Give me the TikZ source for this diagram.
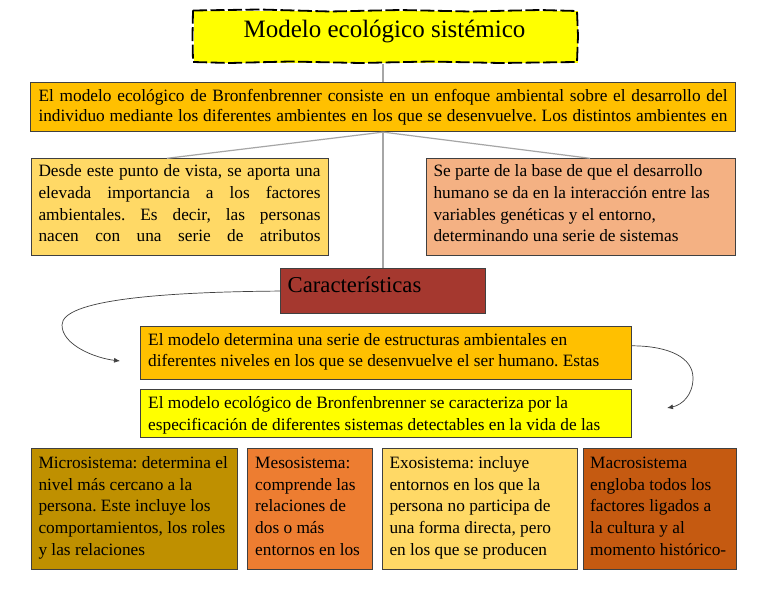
\documentclass[tikz,border=0pt]{standalone}
\usepackage{fontspec}
\setmainfont{Liberation Serif}
\usetikzlibrary{arrows.meta}
\definecolor{cYellow}{HTML}{FFFF00}
\definecolor{cAmber}{HTML}{FFC000}
\definecolor{cLight}{HTML}{FFD966}
\definecolor{cPeach}{HTML}{F4B183}
\definecolor{cRed}{HTML}{A5382F}
\definecolor{cOlive}{HTML}{BF9000}
\definecolor{cOrange}{HTML}{ED7D31}
\definecolor{cRust}{HTML}{C55A11}
\definecolor{cBorder}{HTML}{404040}
\definecolor{cLink}{HTML}{A6A6A6}
\newcommand\Ln[1]{\hbox{#1}}
\newcommand\Jl[2]{\hbox to #1{#2}}
\frenchspacing
\begin{document}
\begin{tikzpicture}[x=1pt,y=-1pt,
  box/.style={draw=cBorder, line width=1.1pt, rectangle, inner sep=0, anchor=north west},
  txt/.style={inner sep=0, anchor=base west, font=\fontsize{17.3}{21.7}\selectfont\frenchspacing},
  link/.style={draw=cLink, line width=1.2pt},
  curvearrow/.style={draw=cBorder, line width=0.7pt, -{Latex[length=6pt,width=5pt]}},
  titleborder/.style={draw=black, line width=1.8pt, dash pattern=on 14pt off 3.5pt, line join=round}]
\useasboundingbox (0,0) rectangle (768,594);
\fill[white] (0,0) rectangle (768,594);
% boxes
\node[box, fill=cYellow, draw=none, minimum width=384pt, minimum height=52pt] (title) at (193,10.5) {};
\draw[titleborder] (193,10.5) -- (260,9.5) -- (330,11.5) -- (400,10) -- (470,11.5) -- (540,10) -- (577,11)
  -- (578,36) -- (577,62) -- (500,63) -- (430,61.5) -- (360,63) -- (290,61.5) -- (230,63) -- (193,62)
  -- (192.5,36) -- cycle;
\node[box, fill=cAmber, minimum width=705pt, minimum height=49pt] (box2) at (30,82) {};
\node[box, fill=cLight, minimum width=297.6pt, minimum height=96.7pt] (left) at (30.7,158.3) {};
\node[box, fill=cPeach, minimum width=309.3pt, minimum height=96.7pt] (right) at (425.7,158.3) {};
\node[box, fill=cRed, minimum width=205pt, minimum height=45.6pt] (char) at (280,267.7) {};
\node[box, fill=cAmber, minimum width=491pt, minimum height=52.5pt] (b3) at (140,326) {};
\node[box, fill=cYellow, minimum width=491pt, minimum height=48pt] (b4) at (140,389) {};
\node[box, fill=cOlive, minimum width=206.6pt, minimum height=120.7pt] (micro) at (30.7,448.3) {};
\node[box, fill=cOrange, minimum width=124.4pt, minimum height=120.7pt] (meso) at (247.3,448.3) {};
\node[box, fill=cLight, minimum width=194.4pt, minimum height=120.7pt] (exo) at (382.3,448.3) {};
\node[box, fill=cRust, minimum width=152.4pt, minimum height=120.7pt] (macro) at (583.3,448.3) {};
% connectors
\draw[link] (title.south -| box2.north) -- (box2.north);
\draw[link] (box2.south) -- (char.north);
\draw[link] (box2.south) -- ([xshift=136.3pt]left.north west);
\draw[link] (box2.south) -- ([xshift=164.3pt]right.north west);
\coordinate (tipL) at (120,361);
\coordinate (tipR) at (667,408);
\draw[curvearrow] (char.west) .. controls (160,292) and (62,300) .. (62,325)
  .. controls (62,345) and (95,358) .. (tipL);
\draw[curvearrow] ([yshift=7pt]b3.east) .. controls (670,346) and (693,358) .. (693,378)
  .. controls (693,395) and (682,405) .. (tipR);
% texts
\node[inner sep=0, anchor=base, font=\fontsize{25}{30}\selectfont] (titletxt) at (384.5,37.5) {Modelo ecológico sistémico};
\node[txt, font=\fontsize{17.3}{20}\selectfont\frenchspacing] (t2) at (38.3,101.7) {\vtop{%
  \Jl{689pt}{El modelo ecológico de Bronfenbrenner consiste en un enfoque ambiental sobre el desarrollo del}%
  \Jl{689pt}{individuo mediante los diferentes ambientes en los que se desenvuelve. Los distintos ambientes en}}};
\node[txt] (tleft) at (38.3,176.7) {\vtop{%
  \Jl{282pt}{Desde este punto de vista, se aporta una}%
  \Jl{282pt}{elevada importancia a los factores}%
  \Jl{282pt}{ambientales. Es decir, las personas}%
  \Jl{282pt}{nacen con una serie de atributos}}};
\node[txt] (tright) at (433.3,176.7) {\vtop{%
  \Ln{Se parte de la base de que el desarrollo}%
  \Ln{humano se da en la interacción entre las}%
  \Ln{variables genéticas y el entorno,}%
  \Ln{determinando una serie de sistemas}}};
\node[inner sep=0, anchor=base west, font=\fontsize{22.7}{27}\selectfont] (tchar) at (287.5,292) {Características};
\node[txt] (tb3) at (148,345) {\vtop{%
  \Ln{El modelo determina una serie de estructuras ambientales en}%
  \Ln{diferentes niveles en los que se desenvuelve el ser humano. Estas}}};
\node[txt] (tb4) at (148,408.3) {\vtop{%
  \Ln{El modelo ecológico de Bronfenbrenner se caracteriza por la}%
  \Ln{especificación de diferentes sistemas detectables en la vida de las}}};
\node[txt] (tmicro) at (38.3,468.3) {\vtop{%
  \Ln{Microsistema: determina el}%
  \Ln{nivel más cercano a la}%
  \Ln{persona. Este incluye los}%
  \Ln{comportamientos, los roles}%
  \Ln{y las relaciones}}};
\node[txt] (tmeso) at (255,468.3) {\vtop{%
  \Ln{Mesosistema:}%
  \Ln{comprende las}%
  \Ln{relaciones de}%
  \Ln{dos o más}%
  \Ln{entornos en los}}};
\node[txt] (texo) at (389.3,468.3) {\vtop{%
  \Ln{Exosistema: incluye}%
  \Ln{entornos en los que la}%
  \Ln{persona no participa de}%
  \Ln{una forma directa, pero}%
  \Ln{en los que se producen}}};
\node[txt] (tmacro) at (590,468.3) {\vtop{%
  \Ln{Macrosistema}%
  \Ln{engloba todos los}%
  \Ln{factores ligados a}%
  \Ln{la cultura y al}%
  \Ln{momento histórico-}}};
\end{tikzpicture}
\end{document}
